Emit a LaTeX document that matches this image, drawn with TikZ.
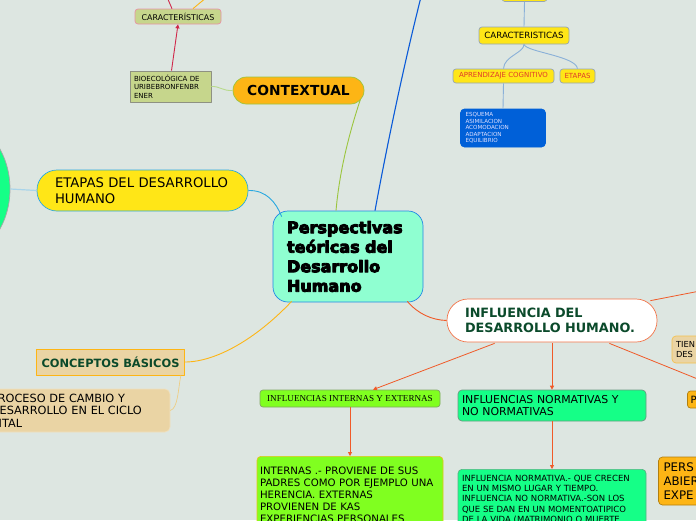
\documentclass[tikz,border=0pt]{standalone}
\usepackage{fontspec}
\setmainfont{DejaVu Sans}
\newfontfamily\heavy{DejaVu Sans Bold}
\newfontfamily\serifx{Liberation Serif}
\newcommand{\thickon}{\special{pdf:literal direct 0 G 2 Tr 0.9 w}}
\newcommand{\thickoff}{\special{pdf:literal direct 0 Tr}}
\usetikzlibrary{arrows.meta,calc,shapes.geometric}
\definecolor{bg}{RGB}{221,230,225}
\definecolor{aqua}{RGB}{143,255,209}
\definecolor{yel}{RGB}{255,230,23}
\definecolor{spring}{RGB}{21,255,135}
\definecolor{lime}{RGB}{128,255,32}
\definecolor{orng}{RGB}{253,181,21}
\definecolor{tan}{RGB}{234,212,164}
\definecolor{olive}{RGB}{198,214,140}
\definecolor{dgreen}{RGB}{11,74,43}
\definecolor{redor}{RGB}{240,90,40}
\definecolor{skyb}{RGB}{41,168,224}
\definecolor{ltsky}{RGB}{168,212,234}
\definecolor{dblue}{RGB}{10,90,216}
\definecolor{boxblue}{RGB}{0,96,216}
\definecolor{grnE}{RGB}{155,197,61}
\definecolor{ltgrnE}{RGB}{184,218,140}
\definecolor{crim}{RGB}{208,40,74}
\definecolor{greyb}{RGB}{150,165,180}
\definecolor{lineb}{RGB}{138,176,216}
\definecolor{redtxt}{RGB}{224,58,42}
\tikzset{
  box/.style={draw, rounded corners=3pt, inner sep=0pt, line width=0.7pt},
  tip/.style={-{Triangle[length=4pt,width=4pt]}},
  conn/.style={line width=0.9pt},
}
\begin{document}
\begin{tikzpicture}[x=1pt,y=-1pt,line join=round]
\fill[bg] (0,0) rectangle (696,520);
\clip (0,0) rectangle (696,520);

% central
\node[box, fill=aqua, draw=skyb!80!blue, rounded corners=15pt, minimum width=150pt, minimum height=91pt,
      text width=122pt, inner xsep=14pt, align=left,
      font=\fontsize{16}{19.5}\selectfont\heavy] (c) at (348,256.5)
  {\thickon Perspectivas\\teóricas del\\Desarrollo\\Humano\thickoff};

% left big circle
\node[draw=gray!70, fill=spring, ellipse, minimum width=120pt, minimum height=144pt, line width=0.7pt] (big) at (-50,189) {};

% ETAPAS
\node[box, fill=yel, draw=skyb, rounded corners=20pt, minimum width=211pt, minimum height=41pt,
      text width=175pt, inner xsep=18pt, align=left, font=\fontsize{13.2}{16}\selectfont] (et) at (142.5,190.5)
  {ETAPAS DEL DESARROLLO\\HUMANO};

% CONTEXTUAL
\node[box, fill=orng, draw=grnE, rounded corners=13.5pt, minimum width=131pt, minimum height=27pt,
      font=\fontsize{13.8}{16}\selectfont\bfseries] (ctx) at (298.5,90.5) {CONTEXTUAL};

% BIOECOLOGICA
\node[box, fill=olive, draw=gray!80!olive, rounded corners=0pt, minimum width=77pt, minimum height=31pt,
      text width=73pt, inner xsep=4pt, align=left, font=\fontsize{7}{8.5}\selectfont] (bio) at (170.5,86.5)
  {BIOECOLÓGICA DE\\URIBEBRONFENBR\\ENER};

% CARACTERISTICAS (left)
\node[box, fill=olive, draw=crim!50, minimum width=86pt, minimum height=15pt,
      font=\fontsize{7.9}{8}\selectfont] (car1) at (178,16.5) {CARACTERÍSTICAS};

% top right yellow (cut off)
\node[box, fill=yel, draw=greyb, minimum width=45pt, minimum height=14pt] (topy) at (524.5,-5.5) {};
\node[box, fill=yel, draw=greyb, minimum width=90pt, minimum height=17pt,
      font=\fontsize{8.6}{9}\selectfont] (car2) at (524,35.5) {CARACTERISTICAS};
\node[box, fill=yel, draw=greyb, minimum width=101pt, minimum height=14pt, text=redtxt,
      font=\fontsize{7}{8}\selectfont] (apr) at (503.5,76) {APRENDIZAJE COGNITIVO};
\node[box, fill=yel, draw=greyb, minimum width=35pt, minimum height=14pt, text=redtxt,
      font=\fontsize{7}{8}\selectfont] (etp) at (577.5,76) {ETAPAS};
\node[box, fill=boxblue, draw=boxblue, rounded corners=4pt, minimum width=80pt, minimum height=38pt,
      text width=75pt, inner xsep=5pt, align=left, text=white!88!blue,
      font=\fontsize{5.6}{6.5}\selectfont] (esq) at (503,128)
  {ESQUEMA\\ASIMILACION\\ACOMODACION\\ADAPTACION\\EQUILIBRIO};

% CONCEPTOS BASICOS
\node[box, fill=tan, draw=orng, rounded corners=0pt, minimum width=148pt, minimum height=26pt, text=dgreen,
      font=\fontsize{11.4}{13}\selectfont\bfseries] (cb) at (110.5,362) {CONCEPTOS BÁSICOS};
\node[box, fill=tan, draw=tan!70!white, rounded corners=5pt, minimum width=180pt, minimum height=43pt,
      text width=178pt, inner xsep=1pt, align=left, font=\fontsize{11.3}{12.5}\selectfont] (proc) at (80,410.5)
  {PROCESO DE CAMBIO Y\\DESARROLLO EN EL CICLO\\VITAL};

% INFLUENCIA
\node[box, fill=white, draw=redor!85, rounded corners=21pt, minimum width=210pt, minimum height=43pt,
      text width=174pt, inner xsep=18pt, align=left, text=dgreen,
      font=\fontsize{12.8}{15}\selectfont\bfseries] (inf) at (552,320.5)
  {INFLUENCIA DEL\\DESARROLLO HUMANO.};

\node[box, fill=lime, draw=gray!70!lime, minimum width=180pt, minimum height=17pt,
      font=\fontsize{9.1}{9}\selectfont\serifx] (iie) at (350,398.5) {INFLUENCIAS INTERNAS Y EXTERNAS};
\node[box, fill=lime, draw=orng!80!lime, rounded corners=4pt, minimum width=184pt, minimum height=76pt,
      text width=180pt, inner xsep=3pt, inner ysep=3pt, align=left, anchor=north,
      font=\fontsize{10.2}{12}\selectfont] (int) at (350,456)
  {INTERNAS .- PROVIENE DE SUS\\PADRES COMO POR EJEMPLO UNA\\HERENCIA. EXTERNAS\\PROVIENEN DE KAS\\EXPERIENCIAS PERSONALES\\[12pt]};

\node[box, fill=spring, draw=gray!80!spring, rounded corners=4pt, minimum width=184pt, minimum height=31pt,
      text width=180pt, inner xsep=4pt, align=left, font=\fontsize{10.9}{11.5}\selectfont] (inn) at (552,405.5)
  {INFLUENCIAS NORMATIVAS Y\\NO NORMATIVAS};
\node[box, fill=spring, draw=gray!60!spring, rounded corners=4pt, minimum width=184pt, minimum height=60pt,
      text width=180pt, inner xsep=4pt, inner ysep=3pt, align=left, anchor=north,
      font=\fontsize{8.5}{10.2}\selectfont] (inr) at (552,469)
  {INFLUENCIA NORMATIVA.- QUE CRECEN\\EN UN MISMO LUGAR Y TIEMPO.\\INFLUENCIA NO NORMATIVA.-SON LOS\\QUE SE DAN EN UN MOMENTOATIPICO\\DE LA VIDA (MATRIMONIO O MUERTE};

% right cut-off boxes
\node[box, fill=tan, draw=orng!60!tan, rounded corners=4pt, minimum width=40pt, minimum height=27pt,
      text width=36pt, inner xsep=4pt, align=left, font=\fontsize{8.3}{10.5}\selectfont] (tien) at (694,349.5)
  {TIEN\\DES};
\node[box, fill=orng, draw=orng!70!black, rounded corners=3pt, minimum width=30pt, minimum height=17pt,
      text width=27pt, inner xsep=3pt, align=left, font=\fontsize{10}{12}\selectfont] (pbox) at (704,399.5)
  {P};
\node[box, fill=orng, draw=orng!70!black, rounded corners=4pt, minimum width=60pt, minimum height=48pt,
      text width=55pt, inner xsep=5pt, align=left, font=\fontsize{11.8}{14}\selectfont] (pers) at (691,481)
  {PERS\\ABIER\\EXPE};

% connectors
\coordinate (offblue) at (421,-3);
\coordinate (offc1) at (167,-3);
\coordinate (offc2) at (207,-3);
\coordinate (offr1) at (700,291);
\coordinate (offr2) at (715,386);

\draw[skyb, conn] (et.east) .. controls (266,190) and (276,202) .. ($(c.north west)+(9,6)$);
\draw[ltsky, line width=1.2pt] (big.east) -- (et.west);
\draw[grnE, conn] ($(c.north)+(-12,0)$) .. controls (340,165) and (352,125) .. ($(ctx.east)+(-4,9)$);
\draw[dblue, line width=1.1pt] ($(c.north)+(27,0)$) .. controls (388,140) and (405,60) .. (offblue);
\draw[orng, conn] ($(c.south west)+(19,-1)$) .. controls (255,340) and (215,362) .. (cb.east);
\draw[redor, conn] ($(c.south east)+(-16,-1)$) .. controls (418,314) and (432,320) .. (inf.west);

\draw[ltgrnE, conn] (ctx.west) .. controls (222,91) and (220,86) .. (bio.east);
\draw[crim, conn, tip] ($(bio.north)+(1,0)$) -- (car1.south);
\draw[crim, conn] ($(car1.north)+(-6,0)$) -- (offc1);
\draw[orng, conn] ($(car1.north)+(15,0)$) -- (offc2);

\draw[lineb, conn] (topy.south) -- (car2.north);
\draw[lineb, conn] (car2.south) .. controls (524,53) and (504,56) .. (apr.north);
\draw[lineb, conn] (car2.south) .. controls (526,52) and (576,56) .. (etp.north);
\draw[lineb, conn] (apr.south) -- (esq.north);

\draw[tan!70!orng, line width=0.6pt] ($(cb.south east)+(-4,0)$) .. controls (178,390) and (178,408) .. (proc.east);

\draw[redor, line width=0.8pt, tip] ($(inf.south west)+(48,1)$) -- ($(iie.north)+(23,0)$);
\draw[redor, line width=0.8pt, tip] ($(inf.south)+(0,1)$) -- (inn.north);
\draw[redor, line width=0.8pt] ($(inf.south east)+(-48,1)$) -- (offr2);
\draw[redor, line width=0.8pt] ($(inf.north east)+(-7,2)$) -- (offr1);
\draw[redor, line width=0.8pt, tip] (iie.south) -- (int.north);
\draw[redor, line width=0.8pt, tip] (inn.south) -- (inr.north);
\end{tikzpicture}
\end{document}
